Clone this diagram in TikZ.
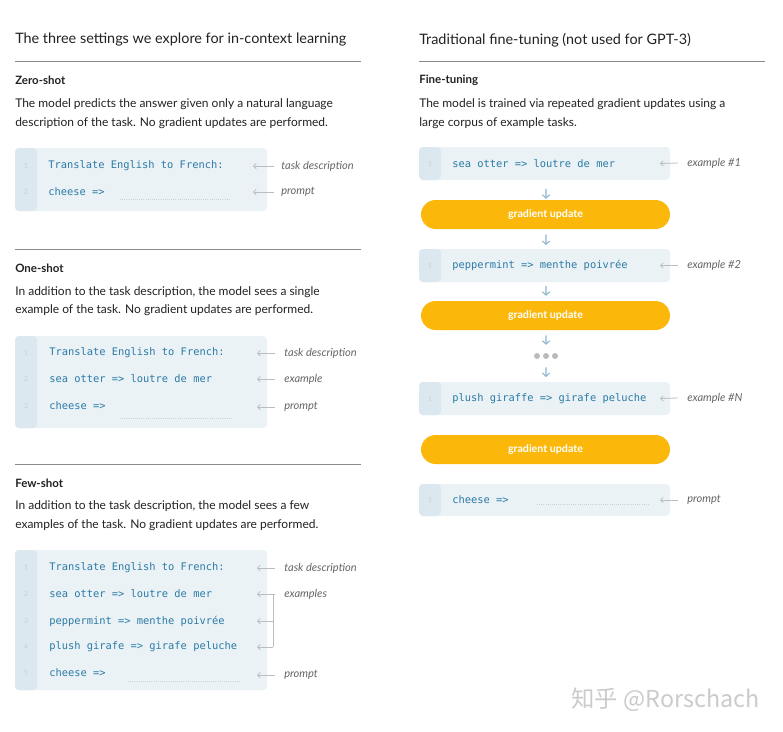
\documentclass[tikz,border=0pt]{standalone}
\usepackage{fontspec}
\setmainfont{Lato}
\setmonofont{DejaVu Sans Mono}
\newfontfamily\cjk{Noto Sans CJK SC}
\usetikzlibrary{arrows.meta}
\definecolor{boxbg}{HTML}{EAF2F6}
\definecolor{gutterc}{HTML}{DCE8EF}
\definecolor{codec}{HTML}{2B7AA6}
\definecolor{lnumc}{HTML}{C3D2DA}
\definecolor{lblc}{HTML}{666666}
\definecolor{arrc}{HTML}{BDBDBD}
\definecolor{darrc}{HTML}{8DB6CE}
\definecolor{gupd}{HTML}{FBB80A}
\definecolor{rulec}{HTML}{8A8A8A}
\definecolor{txtc}{HTML}{222222}
\definecolor{dotc}{HTML}{C9D2D7}
\definecolor{dotsc}{HTML}{BBBBBB}
\definecolor{wmc}{HTML}{CBCBCB}
\tikzset{
  ttl/.style={anchor=west, inner sep=0, text=txtc, font=\fontsize{10.8}{12}\selectfont},
  sect/.style={anchor=west, inner sep=0, text=txtc, font=\bfseries\fontsize{8.6}{10}\selectfont},
  desc/.style={anchor=west, inner sep=0, text=txtc, font=\fontsize{9}{10}\selectfont},
  hrule/.style={draw=rulec, line width=0.75pt},
  codebox/.style={fill=boxbg, rounded corners=3pt, anchor=north west, inner sep=0, outer sep=0,
    path picture={\fill[gutterc] (path picture bounding box.north west) rectangle ([xshift=16.5pt]path picture bounding box.south west);}},
  code/.style={anchor=west, inner sep=0, text=codec, font=\ttfamily\fontsize{7.8}{9}\selectfont},
  lnum/.style={inner sep=0, text=lnumc, font=\fontsize{5.5}{6}\selectfont},
  lbl/.style={anchor=west, inner sep=0, text=lblc, font=\itshape\fontsize{8.3}{9}\selectfont},
  larr/.style={draw=arrc, line width=0.6pt, -{Straight Barb[length=2pt,width=4pt]}},
  bline/.style={draw=arrc, line width=0.6pt},
  darr/.style={draw=darrc, line width=0.8pt, -{Straight Barb[length=2.5pt,width=5.5pt]}},
  dotl/.style={draw=dotc, line width=0.6pt, dash pattern=on 0.6pt off 1pt},
  pill/.style={fill=gupd, rounded corners=11pt, minimum width=249*0.75pt, minimum height=29*0.75pt, inner sep=0,
    text=white, font=\bfseries\fontsize{8}{9}\selectfont},
  dotn/.style={circle, fill=dotsc, minimum size=4.5pt, inner sep=0}
}
\begin{document}
\begin{tikzpicture}[x=0.75pt,y=-0.75pt]
\fill[white] (0,0) rectangle (783,732);
\useasboundingbox (0,0) rectangle (783,732);

% ================= LEFT COLUMN =================
\node[ttl] (t1) at (15,40) {The three settings we explore for in-context learning};
\draw[hrule] (15,61) -- (361,61);

% Zero-shot
\node[sect] (zs) at (15,80) {Zero-shot};
\node[desc] (zsd1) at (15,104) {The model predicts the answer given only a natural language};
\node[desc] (zsd2) at (15,123) {description of the task. No gradient updates are performed.};
\node[codebox, minimum width=252*0.75pt, minimum height=63*0.75pt] (zb) at (15,148) {};
\node[lnum] (zn1) at (26,166) {1};
\node[lnum] (zn2) at (26,192) {2};
\node[code] (zc1) at (48,166) {Translate English to French:};
\node[code] (zc2) at (48,192) {cheese =>};
\draw[dotl] (120,199) -- (230,199);
\node[lbl] (zl1) at (281,166) {task description};
\node[lbl] (zl2) at (281,192) {prompt};
\coordinate (za1) at (253,166);
\coordinate (za2) at (253,192);
\draw[larr] ([xshift=-5.25pt]zl1.west) -- (za1);
\draw[larr] ([xshift=-5.25pt]zl2.west) -- (za2);

\draw[hrule] (15,249) -- (361,249);

% One-shot
\node[sect] (os) at (15,268) {One-shot};
\node[desc] (osd1) at (15,292) {In addition to the task description, the model sees a single};
\node[desc] (osd2) at (15,310) {example of the task. No gradient updates are performed.};
\node[codebox, minimum width=252*0.75pt, minimum height=92*0.75pt] (ob) at (15,336) {};
\node[lnum] (on1) at (26,353) {1};
\node[lnum] (on2) at (26,379) {2};
\node[lnum] (on3) at (26,406) {3};
\node[code] (oc1) at (49,353) {Translate English to French:};
\node[code] (oc2) at (49,379) {sea otter => loutre de mer};
\node[code] (oc3) at (49,406) {cheese =>};
\draw[dotl] (120,418) -- (232,418);
\node[lbl] (ol1) at (284,353) {task description};
\node[lbl] (ol2) at (284,379) {example};
\node[lbl] (ol3) at (284,407) {prompt};
\coordinate (oa1) at (257,353);
\coordinate (oa2) at (257,379);
\coordinate (oa3) at (257,407);
\draw[larr] ([xshift=-6.75pt]ol1.west) -- (oa1);
\draw[larr] ([xshift=-6.75pt]ol2.west) -- (oa2);
\draw[larr] ([xshift=-6.75pt]ol3.west) -- (oa3);

\draw[hrule] (15,464) -- (361,464);

% Few-shot
\node[sect] (fs) at (15,483) {Few-shot};
\node[desc] (fsd1) at (15,506) {In addition to the task description, the model sees a few};
\node[desc] (fsd2) at (15,525) {examples of the task. No gradient updates are performed.};
\node[codebox, minimum width=252*0.75pt, minimum height=140*0.75pt] (fb) at (15,550) {};
\node[lnum] (fn1) at (26,568) {1};
\node[lnum] (fn2) at (26,594) {2};
\node[lnum] (fn3) at (26,621) {3};
\node[lnum] (fn4) at (26,647) {4};
\node[lnum] (fn5) at (26,673) {5};
\node[code] (fc1) at (49,568) {Translate English to French:};
\node[code] (fc2) at (49,594) {sea otter => loutre de mer};
\node[code] (fc3) at (49,621) {peppermint => menthe poivrée};
\node[code] (fc4) at (49,647) {plush girafe => girafe peluche};
\node[code] (fc5) at (49,673) {cheese =>};
\draw[dotl] (128,681) -- (240,681);
\node[lbl] (fl1) at (284,568) {task description};
\node[lbl] (fl2) at (284,594) {examples};
\node[lbl] (fl3) at (284,675) {prompt};
\coordinate (fa1) at (257,568);
\coordinate (fa2) at (257,594);
\coordinate (fa3) at (257,621);
\coordinate (fa4) at (257,647);
\coordinate (fa5) at (257,675);
\coordinate (fbt) at (273,594);
\coordinate (fbm) at (273,621);
\coordinate (fbb) at (273,647);
\draw[larr] ([xshift=-6.75pt]fl1.west) -- (fa1);
\draw[larr] ([xshift=-6.75pt]fl3.west) -- (fa5);
\draw[bline] ([xshift=-6.75pt]fl2.west) -- (fbt) -- (fbb);
\draw[larr] (fbt) -- (fa2);
\draw[larr] (fbm) -- (fa3);
\draw[larr] (fbb) -- (fa4);

% ================= RIGHT COLUMN =================
\node[ttl] (t2) at (419,40) {Traditional fine-tuning (not used for GPT-3)};
\draw[hrule] (419,61) -- (765,61);
\node[sect] (ft) at (419,80) {Fine-tuning};
\node[desc] (ftd1) at (419,104) {The model is trained via repeated gradient updates using a};
\node[desc] (ftd2) at (419,123) {large corpus of example tasks.};

\node[codebox, minimum width=251*0.75pt, minimum height=33*0.75pt] (ba) at (419,147) {};
\node[lnum] (an) at (430,163.5) {1};
\node[code] (ac) at (452,163.5) {sea otter => loutre de mer};
\node[lbl] (al) at (687,163) {example \#1};
\coordinate (aa) at (660,163.5);
\draw[larr] ([xshift=-6.75pt]al.west) -- (aa);

\node[pill] (g1) at (545.5,214.5) {gradient update};

\node[codebox, minimum width=251*0.75pt, minimum height=33*0.75pt] (bb) at (419,249) {};
\node[lnum] (bn) at (430,265.5) {1};
\node[code] (bc) at (452,265.5) {peppermint => menthe poivrée};
\node[lbl] (bl) at (687,265.5) {example \#2};
\coordinate (ba2) at (660,265.5);
\draw[larr] ([xshift=-6.75pt]bl.west) -- (ba2);

\node[pill] (g2) at (545.5,315.5) {gradient update};

\node[dotn] (d1) at (537,356) {};
\node[dotn] (d2) at (546,356) {};
\node[dotn] (d3) at (555,356) {};

\node[codebox, minimum width=251*0.75pt, minimum height=33*0.75pt] (bc2) at (419,382) {};
\node[lnum] (cn) at (430,398.5) {1};
\node[code] (cc) at (452,398.5) {plush giraffe => girafe peluche};
\node[lbl] (cl) at (687,398) {example \#N};
\coordinate (ca) at (660,398.5);
\draw[larr] ([xshift=-6.75pt]cl.west) -- (ca);

\node[pill] (g3) at (545.5,449.5) {gradient update};

\node[codebox, minimum width=251*0.75pt, minimum height=32*0.75pt] (bd) at (419,484) {};
\node[lnum] (dn) at (430,500) {1};
\node[code] (dc) at (452,500) {cheese =>};
\draw[dotl] (537,504) -- (650,504);
\node[lbl] (dl) at (687,500) {prompt};
\coordinate (da) at (660,500);
\draw[larr] ([xshift=-6.75pt]dl.west) -- (da);

% vertical flow arrows
\draw[darr] ([xshift=1.1pt,yshift=-6.75pt]ba.south) -- ([xshift=0.4pt,yshift=0.75pt]g1.north);
\draw[darr] ([xshift=0.4pt,yshift=-3.75pt]g1.south) -- ([xshift=1.1pt,yshift=3pt]bb.north);
\draw[darr] ([xshift=1.1pt,yshift=-3pt]bb.south) -- ([xshift=0.4pt,yshift=3.75pt]g2.north);
\draw[darr] ([xshift=0.4pt,yshift=-3.75pt]g2.south) -- ([yshift=6pt]d2.north);
\draw[darr] ([yshift=-6pt]d2.south) -- ([xshift=1.1pt,yshift=3.75pt]bc2.north);

% watermark
\node[anchor=west, inner sep=0, text=wmc, font=\fontsize{17.5}{20}\selectfont] (wm) at (571,700) {{\cjk 知乎} {\cjk @Rorschach}};
\end{tikzpicture}
\end{document}
